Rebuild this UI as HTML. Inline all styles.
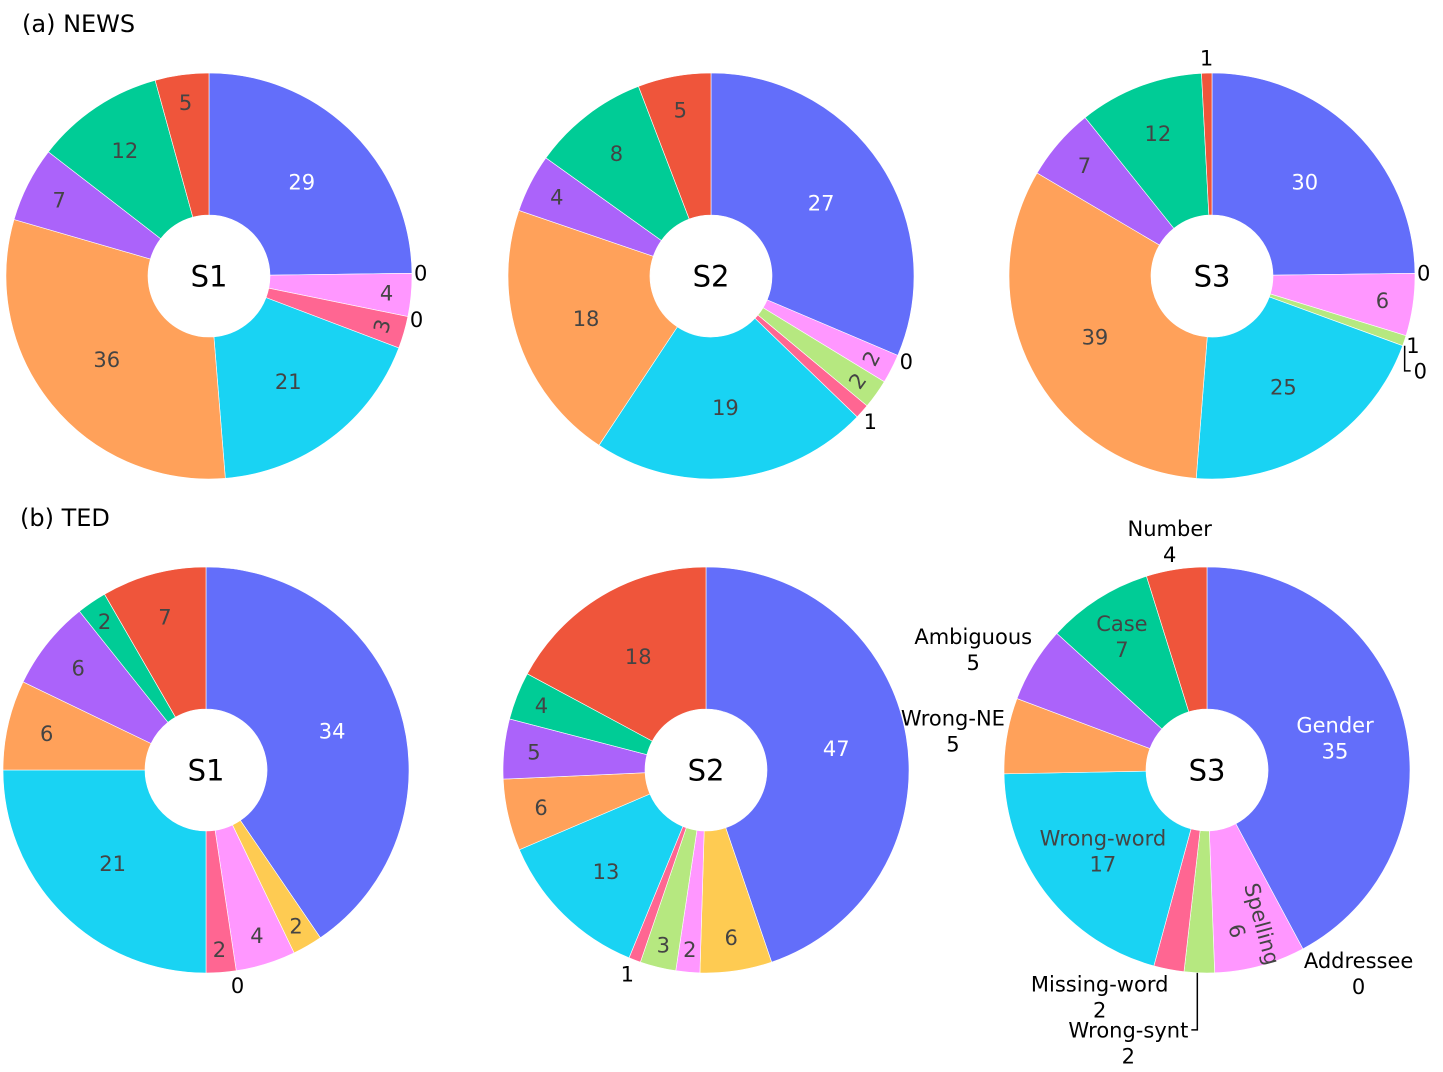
<!DOCTYPE html>
<html><head><meta charset="utf-8">
<style>
html,body{margin:0;padding:0;background:#fff;}
svg{display:block;font-family:"DejaVu Sans","Liberation Sans",sans-serif;}
</style></head>
<body>
<svg id="chart" width="1443" height="1072" viewBox="0 0 1443 1072" xmlns="http://www.w3.org/2000/svg">
<text x="22" y="32" font-size="24" fill="#000">(a) NEWS</text>
<text x="20" y="526" font-size="24" fill="#000">(b) TED</text>
</svg>
<script>
// categories (clockwise order)
const categories = ["Gender","Addressee","Spelling","Wrong-synt","Missing-word","Wrong-word","Wrong-NE","Ambiguous","Case","Number"];
// series values
const newsS1 = [29,0,4,0,3,21,36,7,12,5];
const newsS2 = [27,0,2,2,1,19,18,4,8,5];
const newsS3 = [30,0,6,1,0,25,39,7,12,1];
const tedS1 = [34,2,4,0,2,21,6,6,2,7];
const tedS2 = [47,6,2,3,1,13,6,5,4,18];
const tedS3 = [35,0,6,2,2,17,5,5,7,4];
const chartTitles = ["S1","S2","S3","S1","S2","S3"];

const colors = ["#636efa","#FECB52","#FF97FF","#B6E880","#FF6692","#19D3F3","#FFA15A","#AB63FA","#00CC96","#EF553B"];
const svg = document.getElementById('chart');
const NS = "http://www.w3.org/2000/svg";
const R = 203, HOLE = 61;

const charts = [
 {vals:newsS1, cx:209, cy:276, names:false, modes:"ioiotiiiii", extra:{}, panel:"news"},
 {vals:newsS2, cx:711, cy:276, names:false, modes:"iottoiiiii", extra:{}, panel:"news"},
 {vals:newsS3, cx:1212, cy:276, names:false, modes:"ioiooiiiio", extra:{4:20}, panel:"news"},
 {vals:tedS1, cx:206, cy:770, names:false, modes:"iiioiiiiii", extra:{}, panel:"ted"},
 {vals:tedS2, cx:706, cy:770, names:false, modes:"iiiioiiiii", extra:{}, panel:"ted"},
 {vals:tedS3, cx:1207, cy:770, names:true, modes:"iorooiooio", extra:{3:42}, panel:"ted"}
];

function pt(cx,cy,r,deg){const a=deg*Math.PI/180;return [cx+r*Math.sin(a), cy-r*Math.cos(a)];}
function norm(rot){while(rot>90)rot-=180;while(rot<=-90)rot+=180;return rot;}
function mk(tag){return document.createElementNS(NS,tag);}
const LH = 26;

function textLines(g, lines, x, y, color, rot){
  const t = mk('text');
  t.setAttribute('font-size','21');
  t.setAttribute('fill',color);
  t.setAttribute('text-anchor','middle');
  const y0 = y - (lines.length-1)*LH/2;
  lines.forEach((s,k)=>{
    const ts = mk('tspan');
    ts.setAttribute('x',x);
    ts.setAttribute('y',y0+k*LH);
    ts.setAttribute('dy','0.36em');
    ts.textContent = s;
    t.appendChild(ts);
  });
  if(rot) t.setAttribute('transform',`rotate(${rot.toFixed(1)} ${x} ${y})`);
  g.appendChild(t);
  return t;
}
function blockWidth(g, lines){
  const t = textLines(g, lines, 0, -500, '#000', 0);
  let w = 0;
  t.querySelectorAll('tspan').forEach(ts=>{w=Math.max(w, ts.getComputedTextLength());});
  g.removeChild(t);
  return w;
}

charts.forEach((c,ci)=>{
  const g = mk('g');
  
  
  svg.appendChild(g);
  const total = c.vals.reduce((a,b)=>a+b,0);
  let cum = 0;
  c.vals.forEach((v,i)=>{
    const a0 = cum/total*360, a1 = (cum+v)/total*360, mid=(cum+v/2)/total*360;
    cum += v;
    if(v>0){
      const p = mk('path');
      const [x0,y0]=pt(c.cx,c.cy,R,a0),[x1,y1]=pt(c.cx,c.cy,R,a1);
      const [x2,y2]=pt(c.cx,c.cy,HOLE,a1),[x3,y3]=pt(c.cx,c.cy,HOLE,a0);
      const large = (a1-a0)>180?1:0;
      p.setAttribute('d',`M${x0},${y0}A${R},${R} 0 ${large} 1 ${x1},${y1}L${x2},${y2}A${HOLE},${HOLE} 0 ${large} 0 ${x3},${y3}Z`);
      p.setAttribute('fill',colors[i]);
      p.setAttribute('stroke','#fff');
      p.setAttribute('stroke-width','0.6');
      
      
      g.appendChild(p);
    }
    const lines = c.names ? [categories[i], String(v)] : [String(v)];
    const mode = c.modes[i];
    const frac = v/total;
    if(mode!=='o'){
      const r = 132 + Math.max(0,Math.min(1,(0.15-frac)/0.12))*48;
      const [lx,ly]=pt(c.cx,c.cy,r,mid);
      let rot = 0;
      if(mode==='t') rot = norm(mid);
      if(mode==='r') rot = norm(mid-90);
      const col = i===0 ? '#fff' : '#444';
      const t = textLines(g, lines, lx, ly, col, rot);
      
      
    } else {
      const a = mid*Math.PI/180, dx=Math.sin(a), dy=-Math.cos(a);
      const [px,py]=pt(c.cx,c.cy,R+2,mid);
      const w = blockWidth(g, lines), h = lines.length*LH;
      const extra = c.extra[i];
      if(extra!==undefined){
        const [ex,ey]=pt(c.cx,c.cy,R,mid);
        const ly = py + dy*LH/2 + extra;
        const side = dx>0.1 ? 1 : -1;
        const pl = mk('polyline');
        pl.setAttribute('points',`${ex+side*2},${ey} ${ex+side*2},${ly} ${ex+side*8},${ly}`);
        pl.setAttribute('fill','none');
        pl.setAttribute('stroke','#000');
        pl.setAttribute('stroke-width','1.5');
        
        
        g.appendChild(pl);
        const tx = ex + side*(11 + w/2);
        const ty = ly + (lines.length-1)*LH/2;
        const t = textLines(g, lines, tx, ty, '#000', 0);
        
        
      } else {
        let tx;
        if(Math.abs(dx)>0.17){ tx = px + (dx>0?1:-1)*w/2; }
        else { tx = px + dx*w/2; }
        const ty = py + dy*h/2;
        const t = textLines(g, lines, tx, ty, '#000', 0);
        
        
      }
    }
  });
  const ct = mk('text');
  ct.setAttribute('x',c.cx); ct.setAttribute('y',c.cy);
  ct.setAttribute('dy','0.36em');
  ct.setAttribute('text-anchor','middle');
  ct.setAttribute('font-size','29');
  ct.setAttribute('fill','#000');
  ct.textContent = chartTitles[ci];
  
  
  g.appendChild(ct);
});
</script>
</body></html>
